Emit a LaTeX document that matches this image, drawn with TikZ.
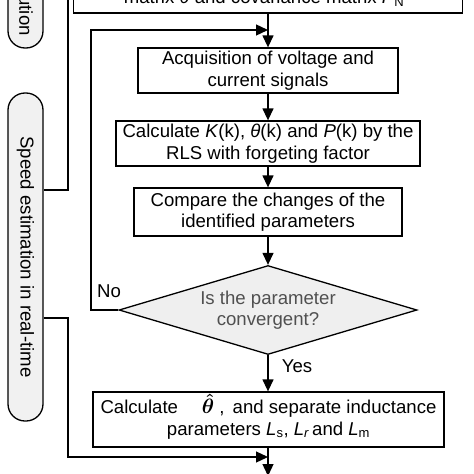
\documentclass[tikz,border=0pt]{standalone}
\usepackage{fontspec}
\setmainfont{Liberation Sans}
\usetikzlibrary{arrows.meta,shapes.geometric,calc}
\definecolor{pillgray}{HTML}{F1F1F1}
\definecolor{diagray}{HTML}{EFEFEF}
\definecolor{txtgray}{HTML}{505050}
\begin{document}
\begin{tikzpicture}[x=1pt,y=-1pt,
  every node/.style={font=\fontsize{18.6pt}{21.5pt}\selectfont},
  box/.style={draw, line width=1.3pt, align=center, inner sep=0pt},
  pill/.style={draw, line width=1.3pt, fill=pillgray, rounded corners=17pt, rotate=-90, minimum height=35pt, inner sep=0pt},
  dia/.style={draw, line width=1.3pt, fill=diagray, diamond, aspect=3.35, inner sep=0pt, align=center, text=txtgray},
  conn/.style={line width=1.3pt},
  arr/.style={line width=1.3pt, -{Triangle[length=12pt,width=11pt]}},
  lbl/.style={inner sep=0pt}
]
\useasboundingbox (0,0) rectangle (474,474);

% left pills
\node[pill, minimum width=148pt] (pilltop) at (25.5,-26) {};
\node[rotate=-90, anchor=east, inner sep=0pt] (pilltoptext) at (26,36) {ution};
\node[pill, minimum width=328pt] (speed) at (25.5,257) {Speed estimation in real-time};

% boxes
\node[box, minimum width=389pt, minimum height=40pt] (top) at (268,-7) {};
\node[lbl, anchor=base] (toptext) at (264,3) {matrix \textit{θ} and covariance matrix \textit{P}\textsubscript{N}};
\node[box, minimum width=260pt, minimum height=45pt] (b2) at (268,70.5) {Acquisition of voltage and\\current signals};
\node[box, minimum width=304pt, minimum height=45pt] (b3) at (268,143.5) {Calculate \textit{K}(k), \textit{θ}(k) and \textit{P}(k) by the\\RLS with forgeting factor};
\node[box, minimum width=268pt, minimum height=48pt] (b4) at (268,212) {Compare the changes of the\\identified parameters};
\node[dia, minimum width=298pt, minimum height=89pt] (d) at (268,310) {Is the parameter\\convergent?};
\node[box, minimum width=351pt, minimum height=55pt] (b5) at (268.5,419.5) {Calculate \quad\smash{\scalebox{1.2}{\boldmath$\hat{\theta}$}} ,\, and separate inductance\\parameters \textit{L}\textsubscript{s}, \textit{L\textsubscript{r}}\,and \textit{L}\textsubscript{m}};

\node[lbl] (no) at (109,291.5) {No};
\node[lbl] (yes) at (297,366.5) {Yes};

% coordinates
\coordinate (loopc) at (91,30);
\coordinate (j1) at (268,30);
\coordinate (u1) at (68,-5);
\coordinate (u2) at (68,190);
\coordinate (l1) at (68,318);
\coordinate (l2) at (68,457);
\coordinate (endc) at (268,476);

% connectors
\draw[arr] (top.south -| b2.north) -- (b2.north);
\draw[arr] (d.west) -| (loopc) -- (j1);
\draw[arr] (b2) -- (b3);
\draw[arr] (b3) -- (b4);
\draw[arr] (b4) -- (d.north);
\draw[arr] (d.south) -- (b5.north -| d.south);
\draw[arr] (b5.south -| d.south) -- (endc);
\draw[conn] (u1) -- (u2) -- (u2 -| speed.north);
\draw[arr] (l1 -| speed.north) -- (l1) -- (l2) -- (l2 -| d.south);
\end{tikzpicture}
\end{document}
